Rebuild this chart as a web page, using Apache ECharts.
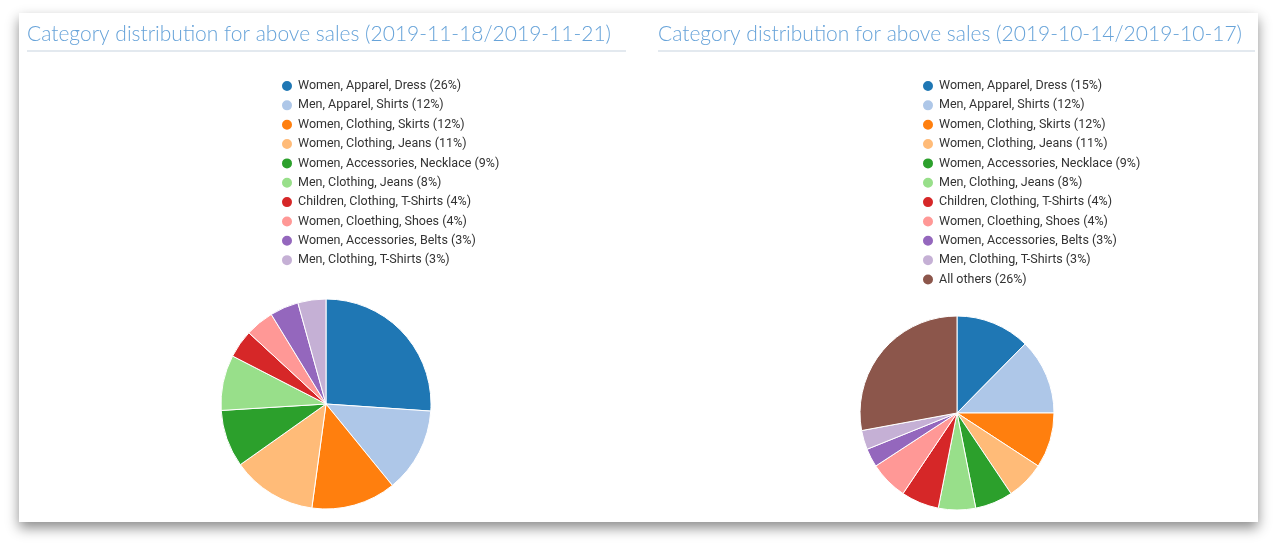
<!DOCTYPE html>
<html>
<head>
<meta charset="utf-8">
<script src="https://cdn.jsdelivr.net/npm/echarts@6/dist/echarts.min.js"></script>
<style>
  html, body { margin: 0; padding: 0; background: #fff; }
  #card {
    position: absolute; left: 19px; top: 13px; width: 1239px; height: 509px;
    background: #fff; box-shadow: 0 6px 12px rgba(0, 0, 0, 0.45);
  }
  #chart { width: 1239px; height: 509px; }
</style>
</head>
<body>
<div id="card"><div id="chart"></div></div>
<script>
// 分类名称
const leftNames = [
  'Women, Apparel, Dress', 'Men, Apparel, Shirts', 'Women, Clothing, Skirts',
  'Women, Clothing, Jeans', 'Women, Accessories, Necklace', 'Men, Clothing, Jeans',
  'Children, Clothing, T-Shirts', 'Women, Cloething, Shoes', 'Women, Accessories, Belts',
  'Men, Clothing, T-Shirts'
];
const rightNames = leftNames.concat(['All others']);

// 图例中显示的百分比
const leftPct = [26, 12, 12, 11, 9, 8, 4, 4, 3, 3];
const rightPct = [15, 12, 12, 11, 9, 8, 4, 4, 3, 3, 26];

// 饼图扇区大小
const leftValues = [26, 13, 13, 13, 8.8, 8.5, 4.3, 4.4, 4.4, 4.3];
const rightValues = [12.4, 12.6, 9.2, 6.4, 6.3, 6.2, 6.3, 6.4, 3.1, 3.2, 27.9];

const leftTitle = 'Category distribution for above sales (2019-11-18/2019-11-21)';
const rightTitle = 'Category distribution for above sales (2019-10-14/2019-10-17)';

const palette = ['#1f77b4', '#aec7e8', '#ff7f0e', '#ffbb78', '#2ca02c', '#98df8a',
  '#d62728', '#ff9896', '#9467bd', '#c5b0d5', '#8c564b'];

const chart = echarts.init(document.getElementById('chart'));

function legendOf(names, pct, left) {
  return {
    orient: 'vertical',
    left: left,
    top: 61,
    icon: 'circle',
    itemWidth: 12,
    itemHeight: 12,
    itemGap: 5.35,
    data: names,
    formatter: name => name + ' (' + pct[names.indexOf(name)] + '%)',
    textStyle: { fontFamily: 'Roboto', fontSize: 12.5, color: '#333', lineHeight: 14 }
  };
}

function pieOf(names, values, center, radius) {
  return {
    type: 'pie',
    center: center,
    radius: radius,
    startAngle: 90,
    clockwise: true,
    data: names.map((n, i) => ({ name: n, value: values[i] })),
    label: { show: false },
    labelLine: { show: false },
    itemStyle: { borderColor: '#fff', borderWidth: 1 },
    emphasis: { scale: false }
  };
}

const titleStyle = { fontFamily: 'Lato', fontWeight: 300, fontSize: 21, color: '#67a3d9' };

chart.setOption({
  animation: false,
  color: palette,
  title: [
    { text: leftTitle, left: 8, top: 11, padding: 0, textStyle: titleStyle },
    { text: rightTitle, left: 639, top: 11, padding: 0, textStyle: titleStyle }
  ],
  legend: [
    legendOf(leftNames, leftPct, 256),
    legendOf(rightNames, rightPct, 897)
  ],
  graphic: [
    { type: 'line', shape: { x1: 8, y1: 38, x2: 607, y2: 38 }, style: { stroke: '#e3e9ef', lineWidth: 2 } },
    { type: 'line', shape: { x1: 639, y1: 38, x2: 1236, y2: 38 }, style: { stroke: '#e3e9ef', lineWidth: 2 } }
  ],
  series: [
    pieOf(leftNames, leftValues, [307, 391], 105),
    pieOf(rightNames, rightValues, [938, 400], 97)
  ]
});
</script>
</body>
</html>
